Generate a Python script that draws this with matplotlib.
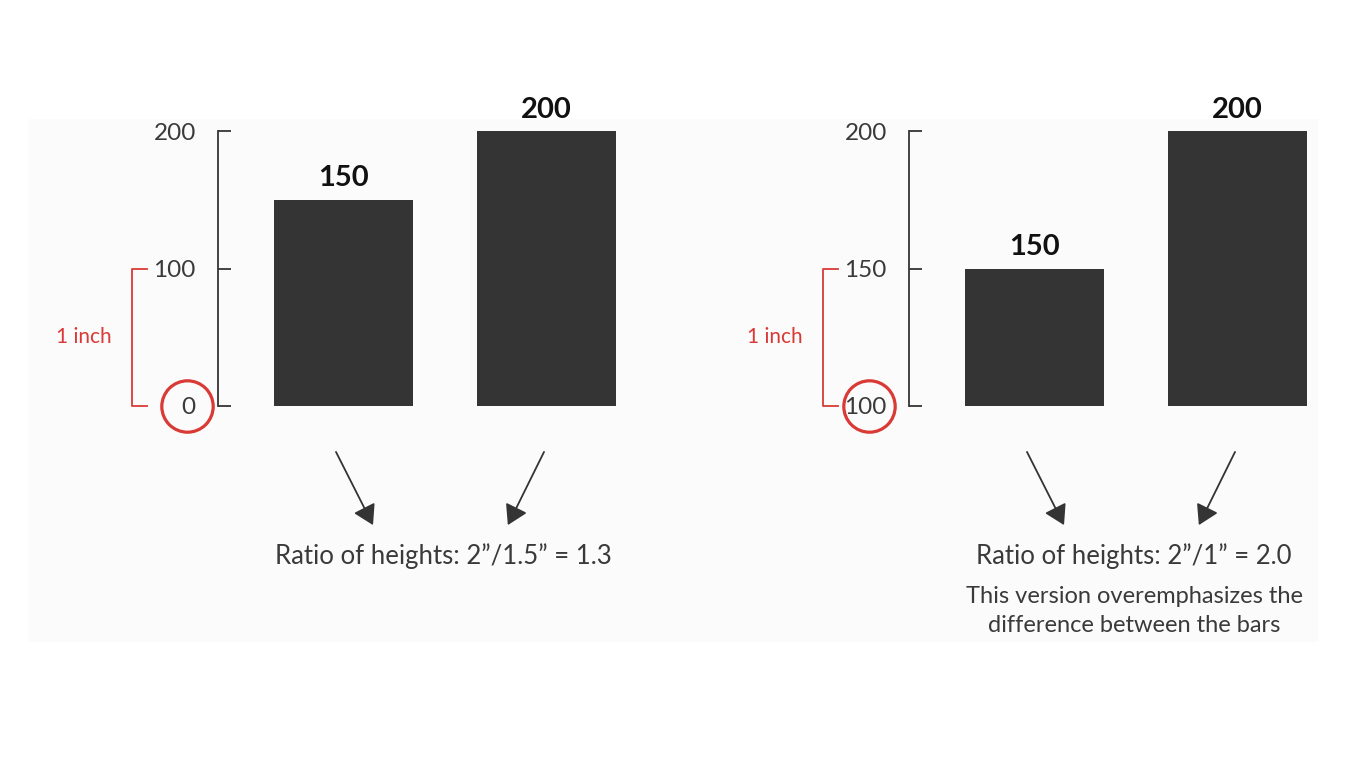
import matplotlib.pyplot as plt
from matplotlib.patches import Rectangle
from matplotlib.transforms import blended_transform_factory

plt.rcParams['font.family'] = ['Lato', 'DejaVu Sans']

# data
bar_pos = [0, 1]
bar_values = [150, 200]
bar_labels = ['150', '200']

left_ticks = [0, 100, 200]
left_ylim = (0, 200)
right_ticks = [100, 150, 200]
right_ylim = (100, 200)

left_caption = 'Ratio of heights: 2\u201d/1.5\u201d = 1.3'
right_caption = 'Ratio of heights: 2\u201d/1\u201d = 2.0'
right_note = 'This version overemphasizes the\ndifference between the bars'

DARK = '#353435'
TEXT = '#3a3a3a'
RED = '#d93a36'

W, H = 1351, 760
fig = plt.figure(figsize=(W / 100, H / 100), dpi=100)
fig.patch.set_facecolor('white')

# faint panel behind everything
fig.patches.append(Rectangle((29 / W, 1 - 642 / H), (1318 - 29) / W, (642 - 119) / H,
                             transform=fig.transFigure, facecolor='#fbfbfb',
                             edgecolor='none', zorder=-5))


def make_panel(x0, ticks, ylim, circle_x, caption, note=None):
    ax = fig.add_axes([x0 / W, 1 - 406 / H, 402 / W, 275 / H])
    ax.patch.set_alpha(0)
    base = ylim[0]
    ax.bar(bar_pos, [v - base for v in bar_values], bottom=base, width=0.686, color=DARK)
    ax.set_xlim(-0.62, 1.365)
    ax.set_ylim(*ylim)
    for s in ['top', 'right', 'bottom']:
        ax.spines[s].set_visible(False)
    ax.spines['left'].set_color(DARK)
    ax.spines['left'].set_linewidth(1.3)
    ax.set_xticks([])
    ax.set_yticks(ticks)
    ax.tick_params(axis='y', direction='in', length=9.5, width=1.3, color=DARK,
                   pad=16, labelsize=17.5, labelcolor=TEXT)

    for x, v, lab in zip(bar_pos, bar_values, bar_labels):
        ax.annotate(lab, (x, v), xytext=(0, 6), textcoords='offset points',
                    ha='center', va='bottom', fontsize=21, fontweight='bold',
                    color='#111111', annotation_clip=False)

    tr = blended_transform_factory(ax.transAxes, ax.transData)
    lo, mid = ticks[0], ticks[1]
    # red bracket for one inch
    ax.plot([-0.177, -0.214, -0.214, -0.177], [mid, mid, lo, lo], color=RED,
            lw=1.3, transform=tr, clip_on=False)
    ax.text(-0.333, (lo + mid) / 2, '1 inch', color=RED, fontsize=15,
            ha='center', va='center', transform=tr)
    # circle round the baseline label
    ax.plot([circle_x], [lo], marker='o', markersize=37, markerfacecolor='none',
            markeredgecolor=RED, markeredgewidth=2.3, transform=tr, clip_on=False)

    for (xs, xe) in [(0.2935, 0.3856), (0.811, 0.721)]:
        ax.annotate('', xy=(xe, -0.433), xytext=(xs, -0.167), xycoords='axes fraction',
                    textcoords='axes fraction',
                    arrowprops=dict(arrowstyle='-|>,head_length=0.5,head_width=0.3',
                                    color=DARK, lw=1.3,
                                    mutation_scale=24, shrinkA=0, shrinkB=0))

    ax.text(0.56, -0.545, caption, transform=ax.transAxes, ha='center', va='center',
            fontsize=18.5, color=TEXT)
    if note:
        ax.text(0.56, -0.745, note, transform=ax.transAxes, ha='center', va='center',
                fontsize=17, color=TEXT, linespacing=1.45)
    return ax


make_panel(218, left_ticks, left_ylim, -0.077, left_caption)
make_panel(909, right_ticks, right_ylim, -0.0995, right_caption, right_note)

fig.savefig('out.png', dpi=100)
